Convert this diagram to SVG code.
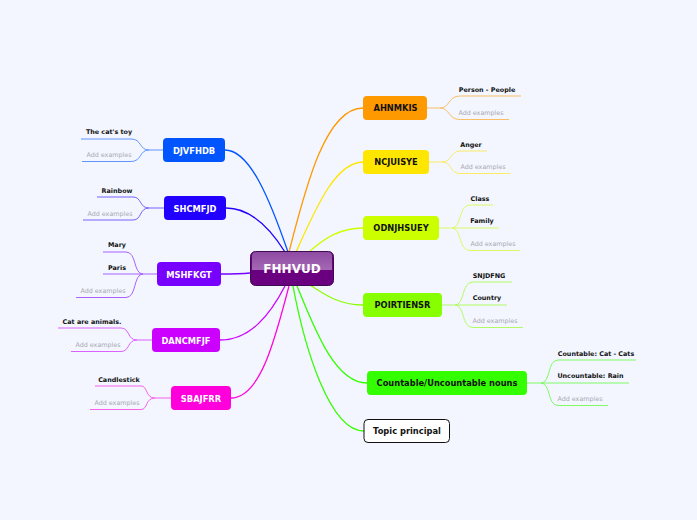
<svg xmlns="http://www.w3.org/2000/svg" width="697" height="520" viewBox="0 0 697 520">
<defs>
<linearGradient id="top" x1="0" y1="0" x2="0" y2="1"><stop offset="0" stop-color="#8f4ba3"/><stop offset="1" stop-color="#a468b4"/></linearGradient>
</defs>
<style>
text{font-family:"DejaVu Sans",sans-serif;text-anchor:middle}
.n{font-size:8.300px;font-weight:bold;fill:#fff}
.d{fill:#111}
.s{font-size:6.400px;font-weight:bold;fill:#111}
.a{font-size:6.400px;fill:#a9a9b2}
.c{fill:none;stroke-width:1.300}
.l{fill:none;stroke-width:1;opacity:.6}
</style>
<rect width="697" height="520" fill="#f3f6ff"/>
<g id="connectors">
<path class="c" stroke="#ff9900" d="M289 252C305 190 325 108 363 108"/>
<path class="c" stroke="#ffe600" d="M296 252C315 210 335 162 363 162"/>
<path class="c" stroke="#ccff00" d="M310 251C325 238 340 228 363 228"/>
<path class="c" stroke="#88ff00" d="M310 285C325 295 340 305 363 305"/>
<path class="c" stroke="#33ff00" d="M297 286C315 330 335 383 367 383"/>
<path class="c" stroke="#33ff00" d="M293 286C305 350 330 431 364 431"/>
<path class="c" stroke="#0055ff" d="M288 252C270 200 250 150 225 150"/>
<path class="c" stroke="#2200ff" d="M285 252C270 228 250 208 226 208"/>
<path class="c" stroke="#7700ff" d="M250 273C240 274 230 274 221 274"/>
<path class="c" stroke="#cc00ff" d="M285 286C270 315 250 340 220 340"/>
<path class="c" stroke="#ff00dd" d="M289 286C275 340 260 398 231 398"/>
<g stroke="#ff9900" class="l"><path d="M427 108H440C450 108 448 96 460 96H521"/><path d="M440 108C450 108 448 119.500 460 119.500H509"/></g>
<g stroke="#ffe600" class="l"><path d="M429 162H442C452 162 450 151 460 151H487"/><path d="M442 162C452 162 450 173.500 460 173.500H510"/></g>
<g stroke="#ccff00" class="l"><path d="M439 228H452C462 228 458 205 470 205H493"/><path d="M452 228H470H499"/><path d="M452 228C462 228 458 250.500 470 250.500H520"/></g>
<g stroke="#88ff00" class="l"><path d="M442 305H455C465 305 461 282 473 282H512"/><path d="M455 305H473H507"/><path d="M455 305C465 305 461 327.500 473 327.500H523"/></g>
<g stroke="#33ff00" class="l"><path d="M527 383H541C551 383 547 360 558 360H636"/><path d="M541 383H558H629"/><path d="M541 383C551 383 547 405.500 558 405.500H608"/></g>
<g stroke="#0055ff" class="l"><path d="M163 150H149C139 150 142 139 131 139H81"/><path d="M149 150C139 150 142 161.500 131 161.500H82"/></g>
<g stroke="#2200ff" class="l"><path d="M164 208H149C139 208 142 197 133 197H97"/><path d="M149 208C139 208 142 220 133 220H83"/></g>
<g stroke="#7700ff" class="l"><path d="M157 274H143C133 274 137 252 126 252H103"/><path d="M143 274H126H103"/><path d="M143 274C133 274 137 297.500 126 297.500H76"/></g>
<g stroke="#cc00ff" class="l"><path d="M152 340H137C127 340 130 328 121 328H58"/><path d="M137 340C127 340 130 351.500 121 351.500H71"/></g>
<g stroke="#ff00dd" class="l"><path d="M171 398H155C145 398 148 386 141 386H95"/><path d="M155 398C145 398 148 409.500 141 409.500H90"/></g>
</g>
<g id="center"><rect x="250.500" y="251.500" width="83" height="34" rx="5" fill="#6a0080" stroke="#3f0a55"/><path d="M252 270V256a4 4 0 0 1 4-4H328a4 4 0 0 1 4 4V270Z" fill="url(#top)"/><text x="292" y="273" font-size="12px" font-weight="bold" fill="#fff">FHHVUD</text></g>
<g id="n1"><rect x="363" y="96" width="64" height="24" rx="4" fill="#ff9900"/><text class="n d" x="395.500" y="111">AHNMKIS</text></g>
<g id="n2"><rect x="363" y="150" width="66" height="24" rx="4" fill="#ffe600"/><text class="n d" x="396" y="165">NCJUISYE</text></g>
<g id="n3"><rect x="363" y="216" width="76" height="24" rx="4" fill="#ccff00"/><text class="n d" x="401" y="231">ODNJHSUEY</text></g>
<g id="n4"><rect x="363" y="293" width="79" height="24" rx="4" fill="#88ff00"/><text class="n d" x="402.500" y="308">POIRTIENSR</text></g>
<g id="n5"><rect x="367" y="371" width="160" height="24" rx="4" fill="#33ff00"/><text class="n d" x="447" y="386">Countable/Uncountable nouns</text></g>
<g id="n6"><rect x="364" y="419.500" width="85.500" height="23" rx="4" fill="#fff" stroke="#111"/><text class="n d" x="407" y="434">Topic principal</text></g>
<g id="n7"><rect x="163" y="138" width="62" height="24" rx="4" fill="#0055ff"/><text class="n" x="194" y="154">DJVFHDB</text></g>
<g id="n8"><rect x="164" y="196" width="62" height="24" rx="4" fill="#2200ff"/><text class="n" x="195" y="212">SHCMFJD</text></g>
<g id="n9"><rect x="157" y="262" width="64" height="24" rx="4" fill="#7700ff"/><text class="n" x="189" y="278">MSHFKGT</text></g>
<g id="n10"><rect x="152" y="328" width="68" height="24" rx="4" fill="#cc00ff"/><text class="n" x="186" y="343.500">DANCMFJF</text></g>
<g id="n11"><rect x="171" y="386" width="60" height="24" rx="4" fill="#ff00dd"/><text class="n" x="201" y="401.500">SBAJFRR</text></g>
<g id="leaves">
<text class="s" x="487" y="92">Person - People</text><text class="a" x="481" y="115">Add examples</text>
<text class="s" x="471" y="147">Anger</text><text class="a" x="483" y="169">Add examples</text>
<text class="s" x="480" y="201">Class</text><text class="s" x="482" y="223">Family</text><text class="a" x="493" y="246">Add examples</text>
<text class="s" x="489" y="278">SNJDFNG</text><text class="s" x="487" y="300">Country</text><text class="a" x="495" y="323">Add examples</text>
<text class="s" x="596" y="356">Countable: Cat - Cats</text><text class="s" x="590.500" y="378">Uncountable: Rain</text><text class="a" x="580" y="401">Add examples</text>
<text class="s" x="109" y="134">The cat's toy</text><text class="a" x="109" y="157">Add examples</text>
<text class="s" x="117" y="193">Rainbow</text><text class="a" x="110" y="216">Add examples</text>
<text class="s" x="117" y="247">Mary</text><text class="s" x="117" y="270">Paris</text><text class="a" x="103" y="293">Add examples</text>
<text class="s" x="92" y="324">Cat are animals.</text><text class="a" x="98" y="347">Add examples</text>
<text class="s" x="119" y="382">Candlestick</text><text class="a" x="117" y="405">Add examples</text>
</g>
</svg>
